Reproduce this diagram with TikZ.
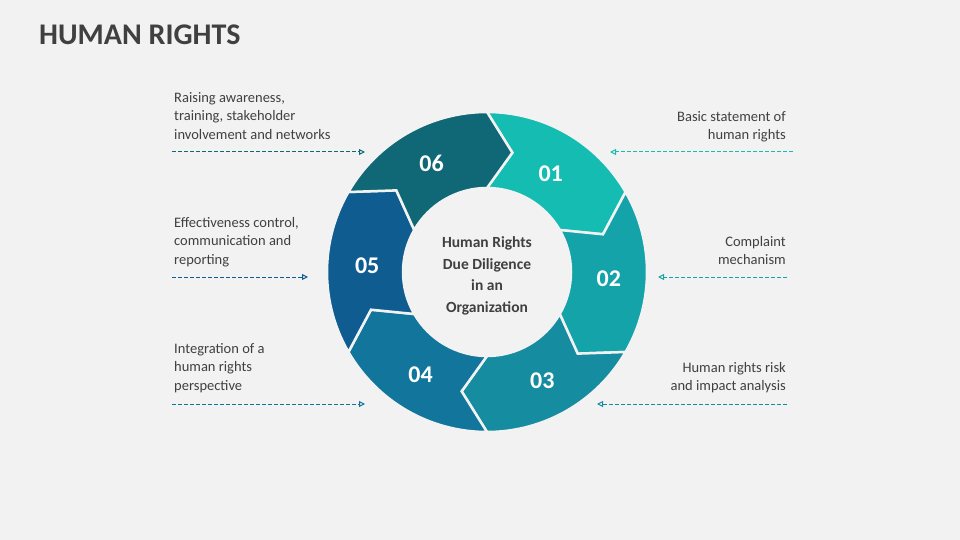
\documentclass[tikz,border=0pt]{standalone}
\usepackage{fontspec}
\setmainfont{Carlito}
\usetikzlibrary{arrows.meta}
\definecolor{bg}{HTML}{F2F2F2}
\definecolor{txt}{HTML}{404040}
\definecolor{cA}{RGB}{20,188,178}
\definecolor{cB}{RGB}{21,163,170}
\definecolor{cC}{RGB}{22,140,160}
\definecolor{cD}{RGB}{18,118,156}
\definecolor{cE}{RGB}{15,92,145}
\definecolor{cF}{RGB}{16,104,118}
\tikzset{
 seg/.style={fill=#1, draw=bg, line width=2.5pt, line join=miter},
 num/.style={text=white, font=\bfseries\fontsize{24}{24}\selectfont},
 lab/.style={text=txt, font=\fontsize{14.5}{18.5}\selectfont, align=left, anchor=north west, inner sep=0},
 labr/.style={text=txt, font=\fontsize{14.5}{18.5}\selectfont, align=right, anchor=north east, inner sep=0},
 conn/.style={dashed, line width=1pt, -{Stealth[length=6pt,width=6pt,inset=0pt,open]}, dash pattern=on 4pt off 2pt}
}
\begin{document}
\begin{tikzpicture}[x=1pt,y=-1pt]
\fill[bg] (0,0) rectangle (960,540);
\useasboundingbox (0,0) rectangle (960,540);
\node[anchor=west, text=txt, font=\bfseries\fontsize{30}{30}\selectfont, inner sep=0] (title) at (39,35) {HUMAN RIGHTS};
\def\R{160}\def\r{84}\def\m{122}
\begin{scope}[shift={(487,272)}, y=1pt]
\foreach \a/\c in {90/cA,30/cB,-30/cC,-90/cD,-150/cE,150/cF}{
  \pgfmathsetmacro{\b}{\a-60}
  \pgfmathsetmacro{\t}{\a-72}
  \pgfmathsetmacro{\n}{\a-12}
  \filldraw[seg=\c] (\a:\R) arc[start angle=\a, end angle=\b, radius=\R] -- (\t:\m) -- (\b:\r)
     arc[start angle=\b, end angle=\a, radius=\r] -- (\n:\m) -- cycle;
}
\fill[bg] (0,0) circle (\r-2);
\node[num] (n1) at (57:117) {01};
\node[num] (n2) at (-3:122) {02};
\node[num] (n3) at (-63:122) {03};
\node[num] (n4) at (-123:122) {04};
\node[num] (n5) at (177:120) {05};
\node[num] (n6) at (117:122) {06};
\node[text=txt, align=center, font=\bfseries\fontsize{15.5}{21.5}\selectfont] (ctr) at (0,-4) {Human Rights\\Due Diligence\\in an\\Organization};
\end{scope}
\node[lab] (l6) at (174,92) {Raising awareness,\\training, stakeholder\\involvement and networks};
\node[lab] (l5) at (174,217) {Effectiveness control,\\communication and\\reporting};
\node[lab] (l4) at (174,343) {Integration of a\\human rights\\perspective};
\node[labr] (r1) at (786,111) {Basic statement of\\human rights};
\node[labr] (r2) at (786,236) {Complaint\\mechanism};
\node[labr] (r3) at (786,362) {Human rights risk\\and impact analysis};
\coordinate (a6s) at (172,152); \coordinate (a6e) at (365,152);
\coordinate (a5s) at (172,277); \coordinate (a5e) at (308,277);
\coordinate (a4s) at (172,404); \coordinate (a4e) at (365,404);
\coordinate (a1s) at (793,152); \coordinate (a1e) at (610,152);
\coordinate (a2s) at (787,277); \coordinate (a2e) at (658,277);
\coordinate (a3s) at (787,404); \coordinate (a3e) at (597,404);
\draw[conn, cF] (a6s) -- (a6e);
\draw[conn, cE] (a5s) -- (a5e);
\draw[conn, cD] (a4s) -- (a4e);
\draw[conn, cA] (a1s) -- (a1e);
\draw[conn, cB] (a2s) -- (a2e);
\draw[conn, cC] (a3s) -- (a3e);
\end{tikzpicture}
\end{document}
